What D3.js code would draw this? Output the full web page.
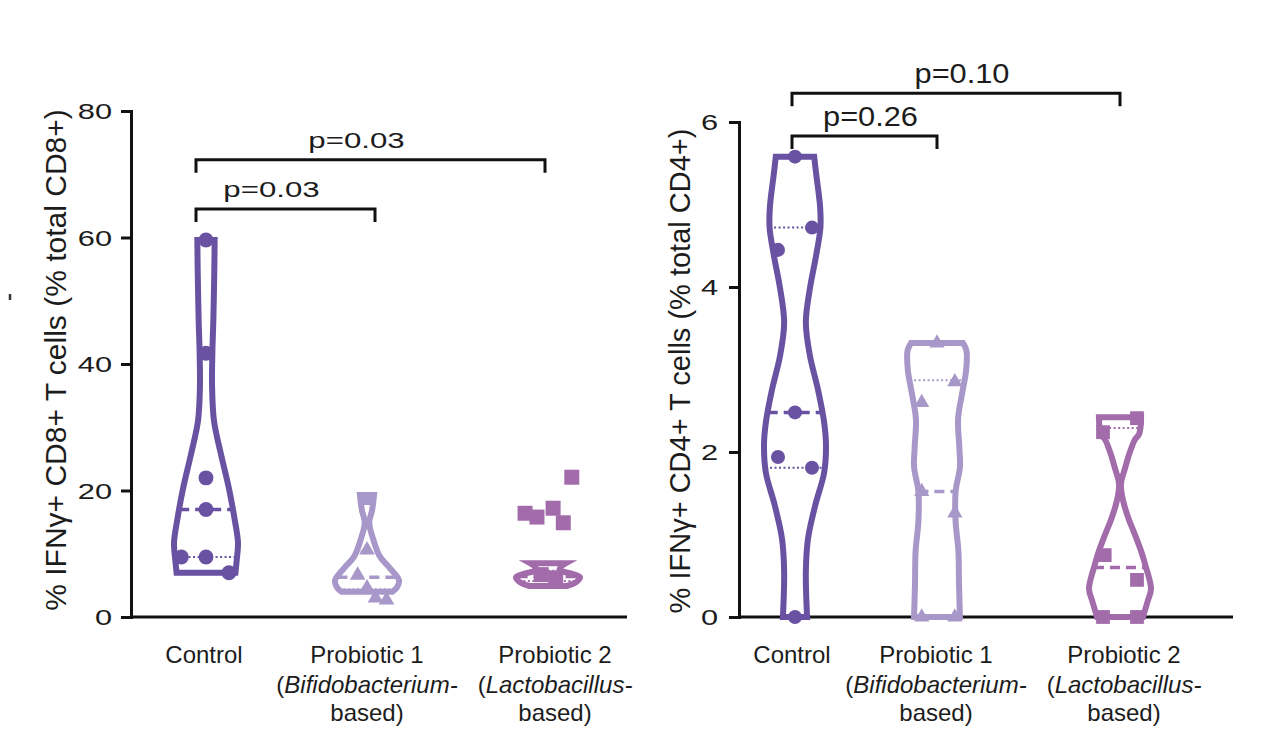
<!DOCTYPE html>
<html><head><meta charset="utf-8">
<script src="https://cdn.jsdelivr.net/npm/d3@7"></script>
<style>
body{margin:0;background:#fff}
svg{display:block;background:#fff}
text{font-family:"Liberation Sans",Arial,Helvetica,sans-serif;fill:#1c1c1c}
</style>
</head><body>
<svg id="chart" width="1287" height="756"></svg>
<script>
// ---------------- DATA ----------------
const categories = ["Control", "Probiotic 1", "Probiotic 2"];
const genusNames = ["", "Bifidobacterium", "Lactobacillus"];

// Left panel: % IFNγ+ CD8+ T cells
const cd8Control = [59.6, 41.7, 22, 17, 9.5, 9.5, 7.0];
const cd8ControlJitter = [0, 0, 0, 0, -1.45, 0, 1.35];
const cd8Probiotic1 = [18.4, 10.6, 6.6, 4.6, 3.0, 2.7];
const cd8Probiotic1Jitter = [0, 0, -0.55, 0, 0.5, 1.15];
const cd8Probiotic2 = [22.1, 17.2, 16.4, 15.8, 14.9, 6.7, 6.2];
const cd8Probiotic2Jitter = [1.4, 0.3, -1.35, -0.65, 0.9, -0.4, 0.45];
const cd8Medians = [17, 6.3, 6.4];
const cd8Q1 = [9.5, 4.4, 5.7];
const cd8Q3 = [41.7, 10.4, 7.3];
// violin outlines: [value, relative half-width]
const cd8ControlViolin = [[7.0,0.92],[9.0,0.96],[11.7,1.0],[15.3,0.9],[20.5,0.71],[25.9,0.46],[31,0.25],[36.4,0.19],[42,0.2],[47,0.23],[55,0.26],[59.6,0.27]];
const cd8Probiotic1Violin = [[4.0,0.8],[4.7,0.94],[5.8,1.0],[7.7,0.72],[9.5,0.41],[12.2,0.2],[14.9,0.07],[16.9,0.16],[19.3,0.22]];
const cd8Probiotic2Violin = [[4.9,0.58],[5.5,0.88],[6.3,1.0],[6.9,0.7],[7.4,0.36],[8.0,0.42],[8.5,0.56]];
const cd8Ticks = [0, 20, 40, 60, 80];
const cd8Pairs = [["Control", "Probiotic 1"], ["Control", "Probiotic 2"]];
const cd8PLabels = ["p=0.03", "p=0.03"];

// Right panel: % IFNγ+ CD4+ T cells
const cd4Control = [5.58, 4.72, 4.45, 2.48, 1.94, 1.81, 0];
const cd4ControlJitter = [0, 1, -1, 0, -1, 1, 0];
const cd4Probiotic1 = [3.32, 2.85, 2.6, 1.52, 1.26, 0, 0];
const cd4Probiotic1Jitter = [0, 1.05, -0.9, -0.9, 1.05, -0.9, 1.05];
const cd4Probiotic2 = [2.41, 2.24, 0.75, 0.45, 0, 0];
const cd4Probiotic2Jitter = [1, -1, -0.9, 1, -1, 1];
const cd4Medians = [2.48, 1.52, 0.6];
const cd4Q1 = [1.81, 0, 0];
const cd4Q3 = [4.72, 2.87, 2.29];
const cd4ControlViolin = [[0,0.39],[0.55,0.35],[0.95,0.42],[1.35,0.65],[1.75,0.94],[2.08,1.0],[2.36,0.94],[2.76,0.74],[3.17,0.48],[3.57,0.35],[3.98,0.48],[4.38,0.68],[4.72,0.82],[4.97,0.81],[5.38,0.68],[5.58,0.62]];
const cd4Probiotic1Violin = [[0,0.74],[0.4,0.71],[0.8,0.69],[1.16,0.6],[1.52,0.6],[1.82,0.74],[2.06,0.72],[2.4,0.68],[2.73,0.82],[2.99,0.94],[3.23,0.95],[3.32,0.84]];
const cd4Probiotic2Violin = [[0,0.74],[0.2,0.9],[0.34,1.0],[0.6,0.84],[0.8,0.68],[1.0,0.48],[1.21,0.26],[1.41,0.1],[1.61,0.03],[1.8,0.16],[2.0,0.32],[2.15,0.48],[2.22,0.62],[2.42,0.68]];
const cd4Ticks = [0, 2, 4, 6];
const cd4Pairs = [["Control", "Probiotic 1"], ["Control", "Probiotic 2"]];
const cd4PLabels = ["p=0.26", "p=0.10"];

// ---------------- DRAWING ----------------
const colors = ["#6a52a3", "#a898c9", "#a26cab"];
const shapes = [d3.symbolCircle, d3.symbolTriangle, d3.symbolSquare];
const svg = d3.select("#chart");
const FONT = '"Liberation Sans",Arial,Helvetica,sans-serif';

function widthAt(profile, v) {
  const vs = profile.map(d => d[0]), ws = profile.map(d => d[1]);
  if (v <= vs[0]) return ws[0];
  if (v >= vs[vs.length - 1]) return ws[ws.length - 1];
  const i = d3.bisectLeft(vs, v);
  const t = (v - vs[i - 1]) / (vs[i] - vs[i - 1]);
  return ws[i - 1] + t * (ws[i] - ws[i - 1]);
}

function drawPanel(cfg) {
  const g = svg.append("g");
  const x = d3.scaleOrdinal(categories, cfg.xPos);
  const y = d3.scaleLinear(cfg.domain, [617, cfg.yTop]);
  const hw = d3.scaleLinear([0, 1], [0, cfg.halfW]);
  const jit = d3.scaleLinear([-1, 1], [-17, 17]);

  // y axis
  const ax = g.append("g")
    .attr("transform", `translate(${cfg.axisX},0)`)
    .call(d3.axisLeft(y).tickValues(cfg.ticks).tickSize(10).tickSizeOuter(0).tickFormat(d3.format("d")));
  ax.attr("font-family", FONT).attr("font-size", 22);
  ax.select(".domain").attr("stroke", "#111").attr("stroke-width", 3).attr("stroke-linecap", "square");
  ax.selectAll(".tick line").attr("stroke", "#111").attr("stroke-width", 3);
  ax.selectAll(".tick text").attr("fill", "#1c1c1c")
    .attr("x", -cfg.labelGap / 1.4).attr("dy", "0.36em")
    .attr("transform", "scale(1.4,1)");

  // x axis baseline
  g.append("line").attr("x1", cfg.axisX).attr("x2", cfg.xEnd)
    .attr("y1", y(0)).attr("y2", y(0))
    .attr("stroke", "#111").attr("stroke-width", 3);

  // y title
  g.append("text")
    .attr("transform", `translate(${cfg.titleX},${cfg.titleY}) rotate(-90)`)
    .attr("text-anchor", "middle").attr("dominant-baseline", "central")
    .attr("font-size", cfg.titleFont).text(cfg.title);

  // violins
  cfg.violins.forEach((prof, i) => {
    const cx = x(categories[i]);
    const area = d3.area()
      .curve(d3.curveCatmullRom.alpha(0.5))
      .y(d => y(d[0]))
      .x0(d => cx - hw(d[1]))
      .x1(d => cx + hw(d[1]));
    g.append("path").attr("d", area(prof))
      .attr("fill", "none").attr("stroke", colors[i])
      .attr("stroke-width", 6).attr("stroke-linejoin", "miter");

    const qline = (v, dash, sw) => {
      const w = hw(widthAt(prof, v));
      g.append("line").attr("x1", cx - w).attr("x2", cx + w)
        .attr("y1", y(v)).attr("y2", y(v))
        .attr("stroke", colors[i]).attr("stroke-width", sw)
        .attr("stroke-dasharray", dash);
    };
    qline(cfg.q1[i], "2,2.5", 2);
    qline(cfg.q3[i], "2,2.5", 2);
    qline(cfg.medians[i], "10,6", 3.5);
  });

  // points
  cfg.points.forEach((vals, i) => {
    const cx = x(categories[i]);
    const sym = d3.symbol().type(shapes[i]).size(cfg.symSizes[i]);
    g.selectAll(null).data(vals).join("path")
      .attr("d", sym)
      .attr("transform", (d, j) => `translate(${cx + jit(cfg.jitters[i][j])},${y(d)})`)
      .attr("fill", colors[i]);
  });

  // significance brackets
  cfg.pairs.forEach((pr, k) => {
    const x1 = x(pr[0]) + cfg.bracketStartDx;
    const x2 = x(pr[1]) + cfg.bracketEndDx[k];
    const by = y(cfg.bracketLevels[k]);
    g.append("path")
      .attr("d", `M${x1},${by + 13}V${by}H${x2}V${by + 13}`)
      .attr("fill", "none").attr("stroke", "#111").attr("stroke-width", 3);
    const tx = (x1 + x2) / 2 + cfg.pLabelDx;
    g.append("text")
      .attr("transform", `translate(${tx},${by - cfg.pLabelGap}) scale(${cfg.pScale},1)`)
      .attr("text-anchor", "middle").attr("font-size", cfg.pFont)
      .text(cfg.pLabels[k]);
  });

  // category labels
  categories.forEach((c, i) => {
    const cx = x(c) + cfg.labelDx[i];
    g.append("text").attr("text-anchor", "middle").attr("font-size", 24)
      .attr("x", cx).attr("y", 663).text(c);
    if (genusNames[i]) {
      const l2 = g.append("text").attr("text-anchor", "middle").attr("font-size", 24)
        .attr("x", cx).attr("y", 693);
      l2.append("tspan").text("(");
      l2.append("tspan").attr("font-style", "italic").text(genusNames[i] + "-");
      g.append("text").attr("text-anchor", "middle").attr("font-size", 24)
        .attr("x", cx).attr("y", 721).text("based)");
    }
  });
}

drawPanel({
  xPos: [206, 367, 548], domain: [0, 80], yTop: 111, axisX: 131, xEnd: 627,
  halfW: 32, ticks: cd8Ticks, labelGap: 19,
  title: "% IFNγ+ CD8+ T cells (% total CD8+)", titleX: 55, titleY: 360, titleFont: 30,
  violins: [cd8ControlViolin, cd8Probiotic1Violin, cd8Probiotic2Violin],
  medians: cd8Medians, q1: cd8Q1, q3: cd8Q3,
  points: [cd8Control, cd8Probiotic1, cd8Probiotic2],
  jitters: [cd8ControlJitter, cd8Probiotic1Jitter, cd8Probiotic2Jitter],
  symSizes: [175, 105, 225],
  pairs: cd8Pairs, pLabels: cd8PLabels, bracketLevels: [64.5, 72.3],
  bracketStartDx: -10, bracketEndDx: [8, -3],
  pLabelDx: -14, pLabelGap: 12, pFont: 22, pScale: 1.42,
  labelDx: [-2, 0, 7]
});

drawPanel({
  xPos: [795, 937, 1120], domain: [0, 6], yTop: 122, axisX: 739, xEnd: 1233,
  halfW: 31, ticks: cd4Ticks, labelGap: 21,
  title: "% IFNγ+ CD4+ T cells (% total CD4+)", titleX: 680, titleY: 371, titleFont: 29,
  violins: [cd4ControlViolin, cd4Probiotic1Violin, cd4Probiotic2Violin],
  medians: cd4Medians, q1: cd4Q1, q3: cd4Q3,
  points: [cd4Control, cd4Probiotic1, cd4Probiotic2],
  jitters: [cd4ControlJitter, cd4Probiotic1Jitter, cd4Probiotic2Jitter],
  symSizes: [155, 100, 190],
  pairs: cd4Pairs, pLabels: cd4PLabels, bracketLevels: [5.83, 6.35],
  bracketStartDx: -3, bracketEndDx: [0, 0],
  pLabelDx: 6, pLabelGap: 10, pFont: 27, pScale: 1.14,
  labelDx: [-3, -1, 4]
});

// small stray mark at left edge of the original figure
svg.append("line").attr("x1", 10).attr("x2", 10).attr("y1", 294).attr("y2", 300)
  .attr("stroke", "#333").attr("stroke-width", 2.5);
</script>
</body></html>
